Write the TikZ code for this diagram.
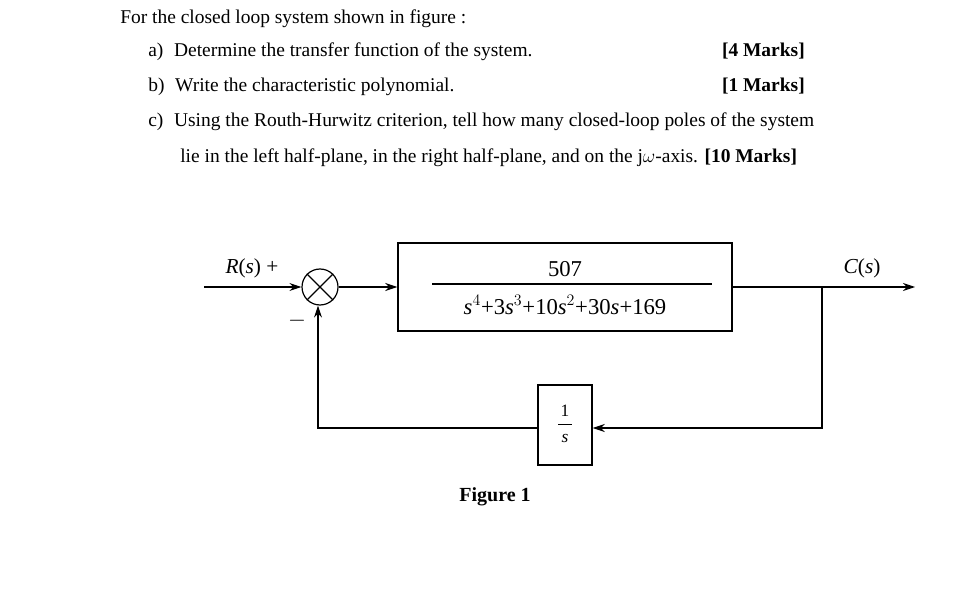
\documentclass[tikz,border=0pt]{standalone}
\usepackage{fontspec}
\setmainfont{Liberation Serif}
\usetikzlibrary{arrows.meta}
\begin{document}
\begin{tikzpicture}[x=0.75pt,y=-0.75pt,
  t/.style={anchor=base west,inner sep=0,font=\fontsize{14.6}{16}\selectfont},
  m/.style={anchor=base east,inner sep=0,font=\fontsize{14.6}{16}\selectfont\bfseries},
  blk/.style={draw,line width=1.6pt,inner sep=0},
  ln/.style={line width=0.9pt},
  ar/.style={ln,-{Stealth[length=9pt,width=6pt]}}]
\useasboundingbox (0,0) rectangle (974,616);
\node[t] (q0) at (120,24) {For the closed loop system shown in figure :};
\node[t] (qa) at (148,57) {a)\hspace{0.55em}Determine the transfer function of the system.};
\node[m] (ma) at (805,57) {[4 Marks]};
\node[t] (qb) at (148,92) {b)\hspace{0.55em}Write the characteristic polynomial.};
\node[m] (mb) at (805,92) {[1 Marks]};
\node[t] (qc) at (148,127) {c)\hspace{0.55em}Using the Routh-Hurwitz criterion, tell how many closed-loop poles of the system};
\node[t] (qd) at (180,163) {lie in the left half-plane, in the right half-plane, and on the j$\omega$-axis. \textbf{[10 Marks]}};
% diagram
\coordinate (in) at (204,287);
\node[draw,ln,circle,minimum size=27pt,inner sep=0] (sum) at (320,287) {};
\draw[ln] (sum.45) -- (sum.225) (sum.135) -- (sum.315);
\node[blk,minimum width=250pt,minimum height=66pt] (G) at (565,287) {};
\draw[line width=0.8pt] (432,284) -- (712,284);
\node[inner sep=0,font=\fontsize{17}{19}\selectfont] (num) at (565,269) {507};
\node[inner sep=0,font=\fontsize{17}{19}\selectfont] (den) at (565,305) {\textit{s}$^{4}$+3\textit{s}$^{3}$+10\textit{s}$^{2}$+30\textit{s}+169};
\node[blk,minimum width=40pt,minimum height=60pt] (H) at (565,425) {};
\node[inner sep=0,font=\fontsize{13}{15}\selectfont] (hn) at (565,411) {1};
\draw[line width=0.6pt] (558,424) -- (572,424);
\node[inner sep=0,font=\fontsize{13}{15}\selectfont\itshape] (hd) at (565,439) {s};
\coordinate (out) at (915,287);
\coordinate (br) at (822,287);
\coordinate (c1) at (822,428);
\coordinate (c2) at (318,428);
\draw[ar] (in) -- (sum);
\draw[ar] (sum) -- (G);
\draw[ar] (G) -- (out);
\draw[ar] (br) -- (c1) -- (H.east |- c1);
\draw[ar] (H.west |- c2) -- (c2) -- (sum.south -| c2);
\node[inner sep=0,font=\fontsize{16}{18}\selectfont] (R) at (252,268) {\textit{R}(\textit{s}) +};
\node[inner sep=0,font=\fontsize{16}{18}\selectfont] (C) at (862,268) {\textit{C}(\textit{s})};
\node[inner sep=0,font=\fontsize{16}{18}\selectfont] (mi) at (297,321) {$-$};
\node[inner sep=0,font=\fontsize{15}{17}\selectfont\bfseries] (fig) at (495,497) {Figure 1};
\end{tikzpicture}
\end{document}
